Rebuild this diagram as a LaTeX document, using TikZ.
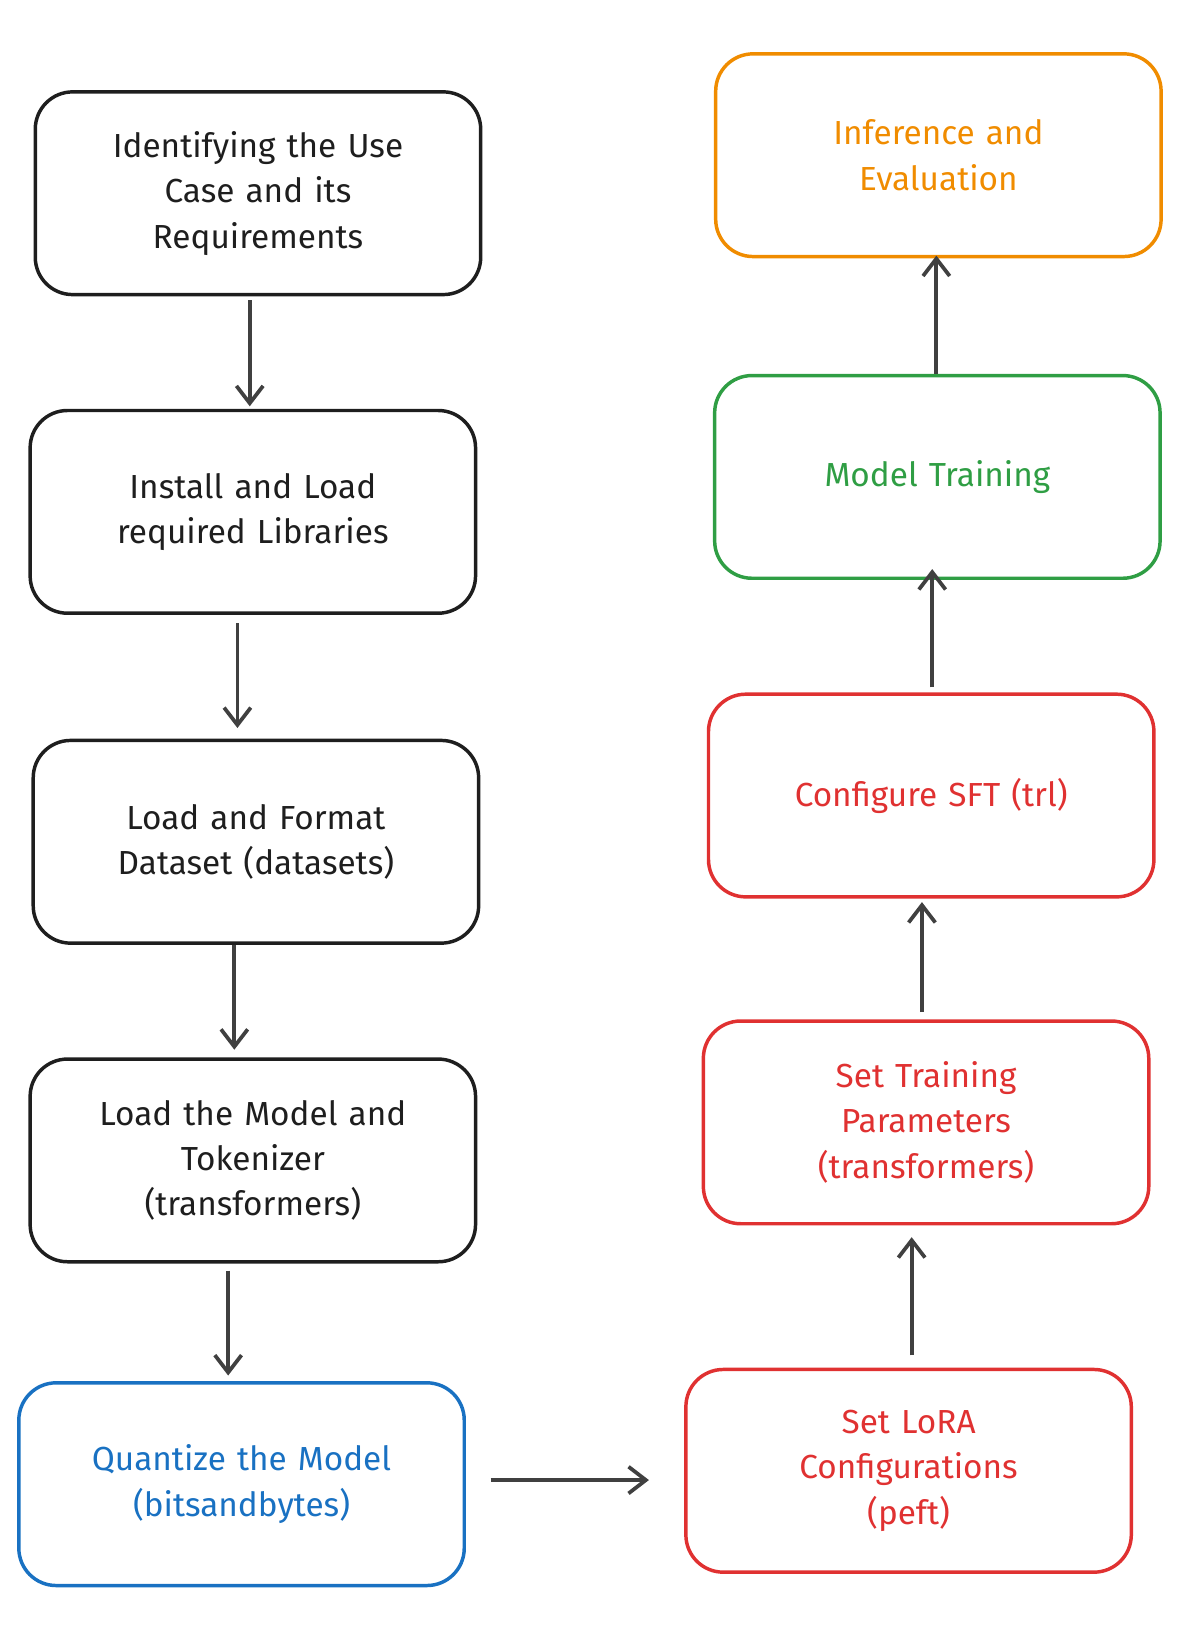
\documentclass[tikz,border=0pt]{standalone}
\usetikzlibrary{arrows.meta}
\usepackage{fontspec}
\setmainfont{Fira Sans}
\definecolor{cblack}{HTML}{1E1E1E}
\definecolor{corange}{HTML}{F08C00}
\definecolor{cgreen}{HTML}{2F9E44}
\definecolor{cred}{HTML}{E03131}
\definecolor{cblue}{HTML}{1971C2}
\begin{document}
\begin{tikzpicture}[x=0.7707pt,y=-0.7707pt,
  box/.style={draw,line width=2.6pt,rounded corners=28pt,minimum width=334pt,minimum height=152pt,align=center,text width=300pt,font=\fontsize{25}{34}\selectfont},
  arr/.style={draw=cblack!85,line width=2.8pt,-{Straight Barb[length=13pt,width=20pt]}}]
\useasboundingbox (0,0) rectangle (1160,1582);
\node[box,draw=cblack,text=cblack] (a) at (251,188) {Identifying the Use\\Case and its\\Requirements};
\node[box,draw=cblack,text=cblack] (b) at (246,498) {Install and Load\\required Libraries};
\node[box,draw=cblack,text=cblack] (c) at (249,819) {Load and Format\\Dataset (datasets)};
\node[box,draw=cblack,text=cblack] (d) at (246,1129) {Load the Model and\\Tokenizer\\(transformers)};
\node[box,draw=cblue,text=cblue] (e) at (235,1444) {Quantize the Model\\(bitsandbytes)};
\node[box,draw=cred,text=cred] (f) at (884,1431) {Set LoRA\\Configurations\\(peft)};
\node[box,draw=cred,text=cred] (g) at (901,1092) {Set Training\\Parameters\\(transformers)};
\node[box,draw=cred,text=cred] (h) at (906,774) {Configure SFT (trl)};
\node[box,draw=cgreen,text=cgreen] (i) at (912,464) {Model Training};
\node[box,draw=corange,text=corange] (j) at (913,151) {Inference and\\Evaluation};
\draw[arr] (a.south) ++(-8,4) -- ++(0,103);
\draw[arr] (b.south) ++(-15,8) -- ++(0,102);
\draw[arr] (c.south) ++(-21,0) -- ++(0,102);
\draw[arr] (d.south) ++(-24,7) -- ++(0,102);
\draw[arr] (e.east) ++(24,-4) -- ++(154,0);
\draw[arr] (f.north) ++(3,-12) -- ++(0,-115);
\draw[arr] (g.north) ++(-4,-7) -- ++(0,-107);
\draw[arr] (h.north) ++(1,-5) -- ++(0,-115);
\draw[arr] (i.north) ++(-1,0) -- ++(0,-115);
\end{tikzpicture}
\end{document}
